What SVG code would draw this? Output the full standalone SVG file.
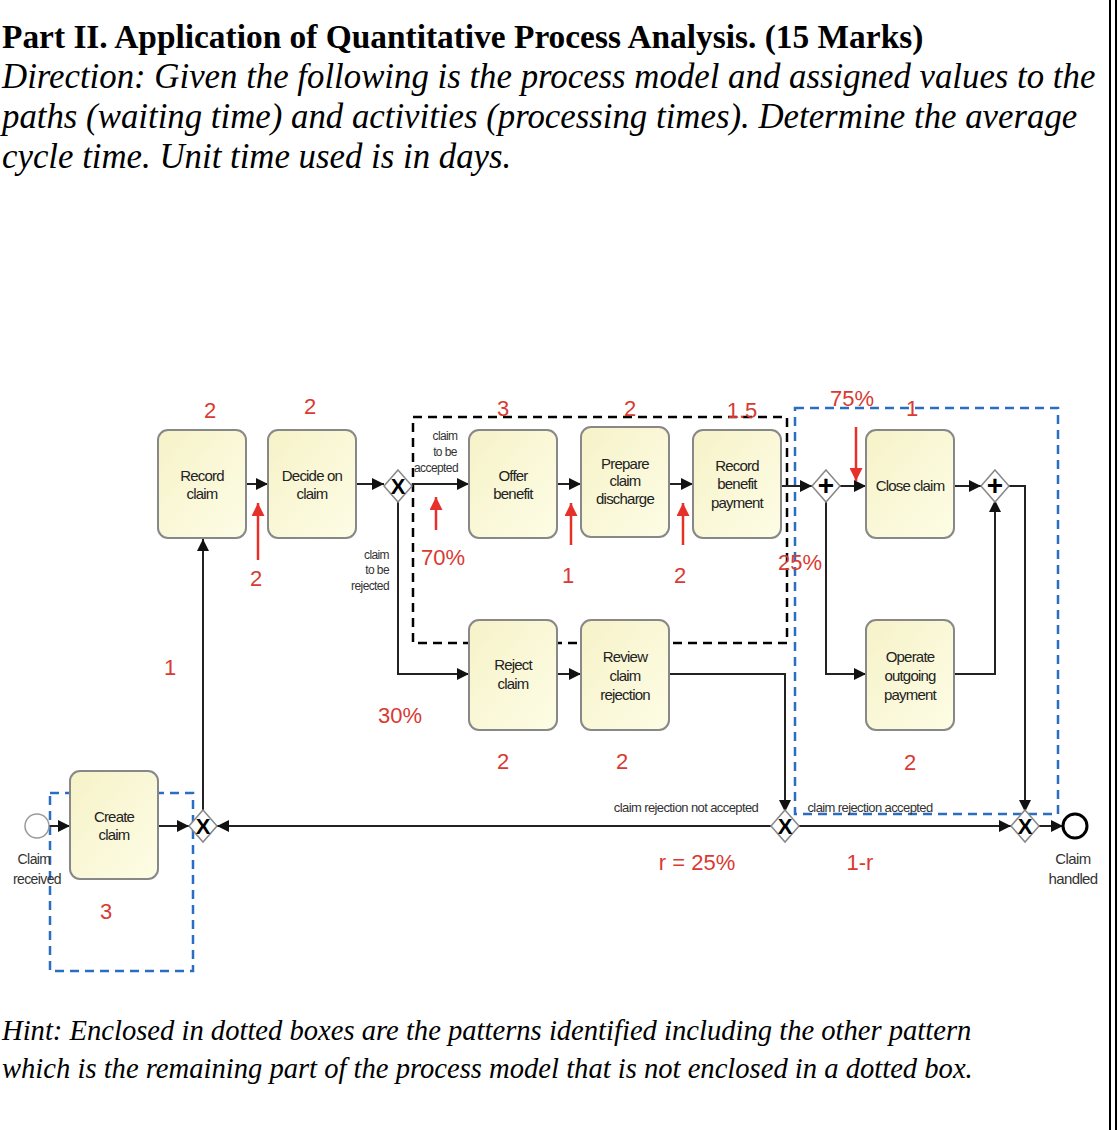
<svg xmlns="http://www.w3.org/2000/svg" width="1118" height="1130" viewBox="0 0 1118 1130">
<defs>
<linearGradient id="g" x1="0" y1="0" x2="1" y2="1"><stop offset="0" stop-color="#f6f2c8"/><stop offset="1" stop-color="#fdfde6"/></linearGradient>
<marker id="a" viewBox="0 0 10 10" refX="10" refY="5" markerWidth="13" markerHeight="12" orient="auto" markerUnits="userSpaceOnUse"><path d="M0,0 L10,5 L0,10 z" fill="#111"/></marker>
<marker id="r" viewBox="0 0 10 10" refX="10" refY="5" markerWidth="13" markerHeight="13" orient="auto" markerUnits="userSpaceOnUse"><path d="M0,0 L10,5 L0,10 z" fill="#e8302a"/></marker>
<style>
.t{fill:url(#g);stroke:#888;stroke-width:2}
.tl{font-family:"Liberation Sans",Arial,sans-serif;font-size:15px;fill:#222;text-anchor:middle;letter-spacing:-0.8px}
.s{font-family:"Liberation Sans",Arial,sans-serif;fill:#333;letter-spacing:-0.6px}
.n{font-family:"Liberation Sans",Arial,sans-serif;font-size:22px;fill:#d93a32;text-anchor:middle}
.gw{fill:#fff;stroke:#888;stroke-width:1.5}
.gx{font-family:"Liberation Sans",Arial,sans-serif;font-weight:bold;fill:#000;text-anchor:middle}
.c{fill:none;stroke:#222;stroke-width:2}
.ra{stroke:#e8302a;stroke-width:2.5;fill:none}
.bd{fill:none;stroke:#000;stroke-width:2.5;stroke-dasharray:9 6}
.bb{fill:none;stroke:#2a6ec4;stroke-width:2.5;stroke-dasharray:9 6}
.h{font-family:"Liberation Serif","Times New Roman",serif;fill:#000}
</style>
</defs>
<rect width="1118" height="1130" fill="#fff"/>
<line x1="1110" y1="0" x2="1110" y2="1130" stroke="#000" stroke-width="2"/>
<line x1="1116" y1="0" x2="1116" y2="1130" stroke="#000" stroke-width="2"/>
<text class="h" x="2" y="48" font-weight="bold" font-size="33.4">Part II. Application of Quantitative Process Analysis. (15 Marks)</text>
<text class="h" x="2" y="88" font-style="italic" font-size="34.8">Direction:  Given the  following is the process model and assigned values to the</text>
<text class="h" x="2" y="128" font-style="italic" font-size="34.8">paths (waiting time) and activities (processing times). Determine the average</text>
<text class="h" x="2" y="168" font-style="italic" font-size="34.8">cycle time. Unit time used is in days.</text>
<text class="h" x="2" y="1040" font-style="italic" font-size="28.6">Hint:  Enclosed in dotted boxes are the patterns identified including the other pattern</text>
<text class="h" x="2" y="1078" font-style="italic" font-size="28.6">which is the remaining part of the process model that is not enclosed in a dotted box.</text>

<g id="boxes">
<rect class="bd" x="413" y="417" width="374" height="226"/>
<rect class="bb" x="795" y="408" width="263" height="406"/>
<rect class="bb" x="50" y="793" width="143" height="178"/>
</g>

<g id="connectors">
<line class="c" x1="49" y1="826" x2="70" y2="826" marker-end="url(#a)"/>
<line class="c" x1="158" y1="826" x2="189" y2="826" marker-end="url(#a)"/>
<line class="c" x1="203" y1="812" x2="203" y2="539" marker-end="url(#a)"/>
<line class="c" x1="771" y1="826" x2="217" y2="826" marker-end="url(#a)"/>
<line class="c" x1="246" y1="484" x2="268" y2="484" marker-end="url(#a)"/>
<line class="c" x1="356" y1="484" x2="384" y2="484" marker-end="url(#a)"/>
<line class="c" x1="412" y1="484" x2="469" y2="484" marker-end="url(#a)"/>
<polyline class="c" points="398,502 398,674 469,674" marker-end="url(#a)"/>
<line class="c" x1="557" y1="484" x2="581" y2="484" marker-end="url(#a)"/>
<line class="c" x1="669" y1="484" x2="693" y2="484" marker-end="url(#a)"/>
<line class="c" x1="781" y1="486" x2="812" y2="486" marker-end="url(#a)"/>
<line class="c" x1="557" y1="674" x2="581" y2="674" marker-end="url(#a)"/>
<line class="c" x1="840" y1="486" x2="866" y2="486" marker-end="url(#a)"/>
<polyline class="c" points="826,500 826,674 866,674" marker-end="url(#a)"/>
<line class="c" x1="954" y1="486" x2="981" y2="486" marker-end="url(#a)"/>
<polyline class="c" points="954,674 995,674 995,500" marker-end="url(#a)"/>
<polyline class="c" points="1009,486 1025,486 1025,812" marker-end="url(#a)"/>
<polyline class="c" points="669,674 785,674 785,812" marker-end="url(#a)"/>
<line class="c" x1="799" y1="826" x2="1011" y2="826" marker-end="url(#a)"/>
<line class="c" x1="1039" y1="826" x2="1063" y2="826" marker-end="url(#a)"/>
</g>

<g id="events">
<circle cx="37" cy="826" r="12" fill="#fff" stroke="#999" stroke-width="1.5"/>
<circle cx="1075" cy="826" r="12" fill="#fff" stroke="#000" stroke-width="3"/>
<text class="s" x="34" y="864" text-anchor="middle" font-size="14">Claim</text>
<text class="s" x="37" y="884" text-anchor="middle" font-size="14">received</text>
<text class="s" x="1073" y="864" text-anchor="middle" font-size="15">Claim</text>
<text class="s" x="1073" y="884" text-anchor="middle" font-size="15">handled</text>
</g>

<g id="tasks">
<rect class="t" x="158" y="430" width="88" height="108" rx="10"/><text class="tl" x="202" y="481">Record</text><text class="tl" x="202" y="499">claim</text>
<rect class="t" x="268" y="430" width="88" height="108" rx="10"/><text class="tl" x="312" y="481">Decide on</text><text class="tl" x="312" y="499">claim</text>
<rect class="t" x="469" y="430" width="88" height="108" rx="10"/><text class="tl" x="513" y="481">Offer</text><text class="tl" x="513" y="499">benefit</text>
<rect class="t" x="581" y="427" width="88" height="110" rx="10"/><text class="tl" x="625" y="469">Prepare</text><text class="tl" x="625" y="486">claim</text><text class="tl" x="625" y="504">discharge</text>
<rect class="t" x="693" y="430" width="88" height="108" rx="10"/><text class="tl" x="737" y="471">Record</text><text class="tl" x="737" y="489">benefit</text><text class="tl" x="737" y="508">payment</text>
<rect class="t" x="866" y="430" width="88" height="108" rx="10"/><text class="tl" x="910" y="491">Close claim</text>
<rect class="t" x="469" y="620" width="88" height="110" rx="10"/><text class="tl" x="513" y="670">Reject</text><text class="tl" x="513" y="689">claim</text>
<rect class="t" x="581" y="620" width="88" height="110" rx="10"/><text class="tl" x="625" y="662">Review</text><text class="tl" x="625" y="681">claim</text><text class="tl" x="625" y="700">rejection</text>
<rect class="t" x="866" y="620" width="88" height="110" rx="10"/><text class="tl" x="910" y="662">Operate</text><text class="tl" x="910" y="681">outgoing</text><text class="tl" x="910" y="700">payment</text>
<rect class="t" x="70" y="771" width="88" height="108" rx="10"/><text class="tl" x="114" y="822">Create</text><text class="tl" x="114" y="840">claim</text>
</g>

<g id="gateways">
<polygon class="gw" points="203,810 217,826 203,842 189,826"/><text class="gx" x="203" y="834" font-size="22">X</text>
<polygon class="gw" points="398,470 412,486 398,502 384,486"/><text class="gx" x="398" y="494" font-size="22">X</text>
<polygon class="gw" points="826,470 840,486 826,502 812,486"/><text class="gx" x="826" y="495" font-weight="normal" font-size="28">+</text>
<polygon class="gw" points="995,470 1009,486 995,502 981,486"/><text class="gx" x="995" y="495" font-weight="normal" font-size="28">+</text>
<polygon class="gw" points="785,810 799,826 785,842 771,826"/><text class="gx" x="785" y="834" font-size="22">X</text>
<polygon class="gw" points="1025,810 1039,826 1025,842 1011,826"/><text class="gx" x="1025" y="834" font-size="22">X</text>
</g>

<g id="labels">
<text class="s" x="445" y="440" text-anchor="middle" font-size="12">claim</text>
<text class="s" x="445" y="456" text-anchor="middle" font-size="12">to be</text>
<text class="s" x="436" y="472" text-anchor="middle" font-size="12">accepted</text>
<text class="s" x="389" y="559" text-anchor="end" font-size="12">claim</text>
<text class="s" x="389" y="574" text-anchor="end" font-size="12">to be</text>
<text class="s" x="389" y="590" text-anchor="end" font-size="12">rejected</text>
<text class="s" x="686" y="812" text-anchor="middle" font-size="13">claim rejection not accepted</text>
<text class="s" x="870" y="812" text-anchor="middle" font-size="13">claim rejection accepted</text>
</g>

<g id="values">
<line class="ra" x1="258" y1="560" x2="258" y2="503" marker-end="url(#r)"/>
<line class="ra" x1="436" y1="530" x2="436" y2="497" marker-end="url(#r)"/>
<line class="ra" x1="571" y1="545" x2="571" y2="503" marker-end="url(#r)"/>
<line class="ra" x1="683" y1="545" x2="683" y2="503" marker-end="url(#r)"/>
<line class="ra" x1="856" y1="427" x2="856" y2="481" marker-end="url(#r)"/>
<text class="n" x="210" y="418">2</text>
<text class="n" x="310" y="414">2</text>
<text class="n" x="503" y="416">3</text>
<text class="n" x="630" y="416">2</text>
<text class="n" x="742" y="418">1.5</text>
<text class="n" x="852" y="406">75%</text>
<text class="n" x="912" y="416">1</text>
<text class="n" x="256" y="586">2</text>
<text class="n" x="443" y="565">70%</text>
<text class="n" x="568" y="583">1</text>
<text class="n" x="680" y="583">2</text>
<text class="n" x="800" y="570">25%</text>
<text class="n" x="170" y="675">1</text>
<text class="n" x="400" y="723">30%</text>
<text class="n" x="503" y="769">2</text>
<text class="n" x="622" y="769">2</text>
<text class="n" x="910" y="770">2</text>
<text class="n" x="697" y="870">r = 25%</text>
<text class="n" x="860" y="870">1-r</text>
<text class="n" x="106" y="919">3</text>
</g>
</svg>
